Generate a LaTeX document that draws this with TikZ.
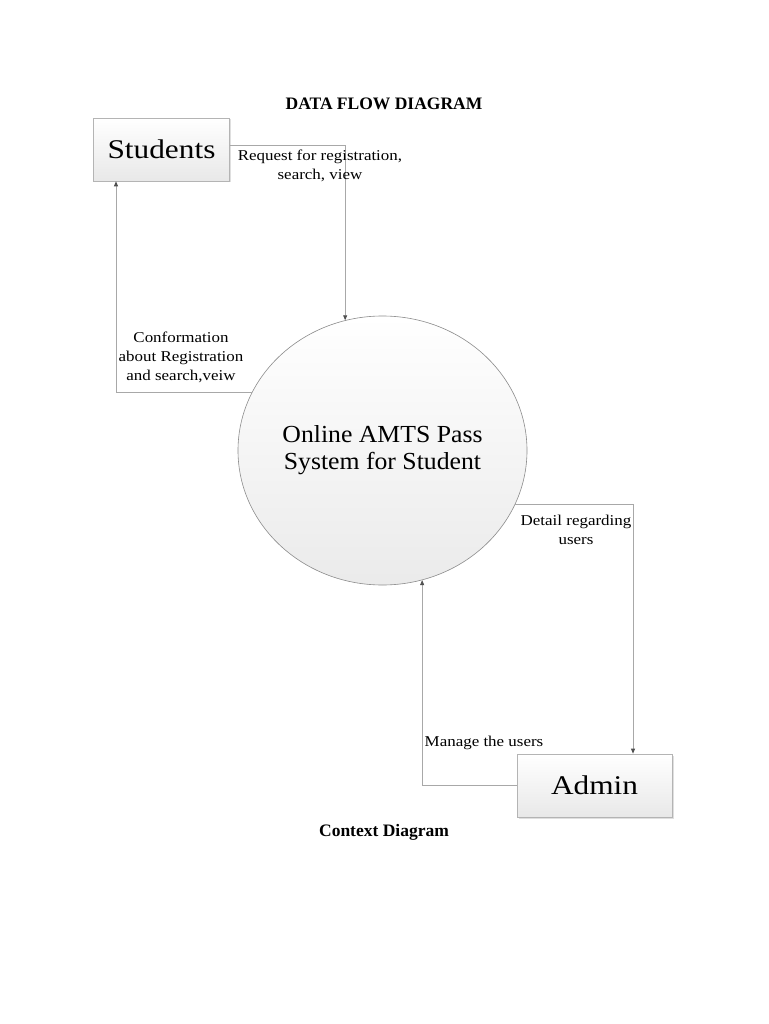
\documentclass[tikz,border=0pt]{standalone}
\usepackage{fontspec}
\setmainfont{Liberation Serif}
\newfontfamily\labelfont[FakeStretch=1.13]{Liberation Serif}
\newfontfamily\boxfont[FakeStretch=1.16]{Liberation Serif}
\newfontfamily\circfont[FakeStretch=1.05]{Liberation Serif}
\usetikzlibrary{shapes.geometric,arrows.meta,shadows}
\definecolor{linegray}{HTML}{A8A8A8}
\definecolor{bordergray}{HTML}{B4B4B4}
\definecolor{tipgray}{HTML}{505050}
\tikzset{
  entity/.style={draw=bordergray, line width=0.7pt, top color=white, bottom color=black!9,
    minimum width=136pt, minimum height=63pt, inner sep=0pt,
    drop shadow={shadow xshift=1.5pt, shadow yshift=-1.5pt, opacity=0.25},
    font=\boxfont\fontsize{27}{30}\selectfont},
  process/.style={ellipse, draw=black!45, line width=0.6pt, top color=white, bottom color=black!8,
    minimum width=289pt, minimum height=269pt, inner sep=0pt, align=center,
    font=\circfont\fontsize{24.5}{27}\selectfont},
  flow/.style={draw=linegray, line width=0.8pt,
    -{Triangle[length=5pt,width=4pt,fill=tipgray,color=tipgray]}},
  flowlabel/.style={align=center, inner sep=0pt, font=\labelfont\fontsize{15}{19}\selectfont},
  heading/.style={inner sep=0pt, font=\bfseries\fontsize{17.5}{20}\selectfont}
}
\begin{document}
\begin{tikzpicture}[x=1pt, y=-1pt]
  \useasboundingbox[fill=white] (0,0) rectangle (768,1024);

  \node[heading] (title) at (384,104) {DATA FLOW DIAGRAM};
  \node[heading] (ctx) at (384,832) {Context Diagram};

  \node[entity] (s) at (161.5,149.5) {Students};
  \node[entity, minimum width=155pt] (a) at (594.5,785.5) {Admin};
  \node[process] (c) at (382.5,450.5) {Online AMTS Pass\\System for Student};

  \draw[flow] ([yshift=4.5pt]s.east) -| (c.106.1);
  \draw[flow] (c.156.7) -| ([xshift=-45.5pt]s.south);
  \draw[flow] (c.-22) -| ([xshift=38.5pt]a.north);
  \draw[flow] (a.west) -| (c.-73);

  \node[flowlabel] (l1) at (320,165.5) {Request for registration,\\search, view};
  \node[flowlabel] (l2) at (181,357.5) {Conformation\\about Registration\\and search,veiw};
  \node[flowlabel] (l3) at (576,530) {Detail regarding\\users};
  \node[flowlabel] (l4) at (484,743) {Manage the users};
\end{tikzpicture}
\end{document}
